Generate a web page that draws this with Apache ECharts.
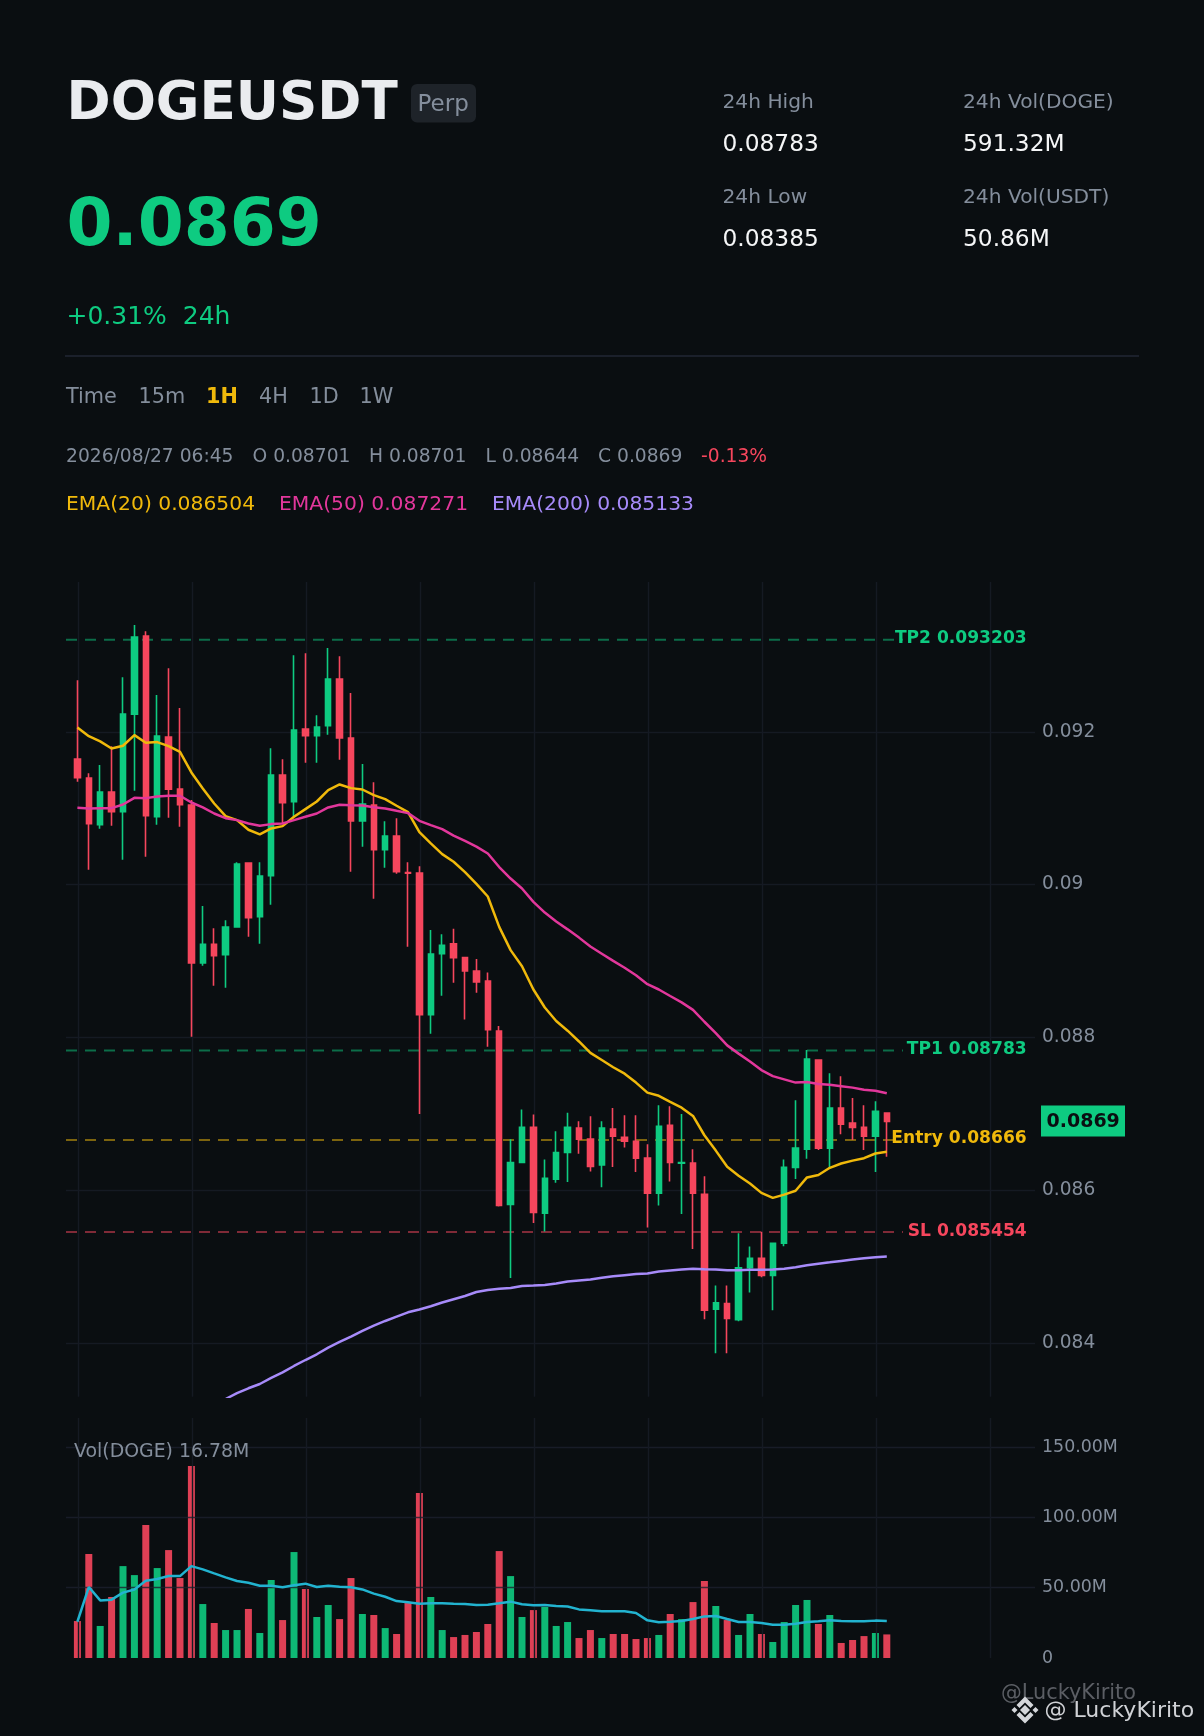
<!DOCTYPE html>
<html><head><meta charset="utf-8">
<style>html,body{margin:0;padding:0;background:#0a0e11}#c{width:1204px;height:1736px}</style>
<script src="https://cdn.jsdelivr.net/npm/echarts@6/dist/echarts.min.js"></script>
</head><body><div id="c"></div>
<script>
const opens=[.091642,.091394,.090783,.091210,.090953,.092231,.093252,.090888,.091930,.091250,.091040,.088977,.089221,.089082,.089448,.090281,.089579,.090116,.091433,.091084,.092035,.091948,.092079,.092689,.091917,.090835,.091040,.090456,.090635,.090159,.090151,.088297,.089095,.089227,.089045,.088871,.088740,.088084,.085817,.086365,.086824,.085700,.086145,.086496,.086815,.086670,.086332,.086801,.086693,.086642,.086421,.085962,.086852,.086356,.086356,.085948,.084445,.084520,.084309,.084988,.085110,.084885,.085307,.086300,.086539,.087705,.086553,.087077,.086881,.086824,.086707,.087010];
const closes=[.091398,.090796,.091210,.090953,.092231,.093239,.090901,.091943,.091250,.091045,.088977,.089221,.089069,.089444,.090268,.089566,.090111,.091433,.091071,.092022,.091948,.092061,.092689,.091921,.090835,.091053,.090456,.090635,.090168,.090150,.088297,.089091,.089208,.089045,.088871,.088726,.088103,.085803,.086365,.086824,.085710,.086159,.086496,.086824,.086670,.086314,.086815,.086707,.086642,.086421,.085962,.086838,.086365,.086365,.085962,.084431,.084529,.084323,.084988,.085110,.084885,.085307,.086300,.086553,.087719,.086553,.087077,.086866,.086824,.086707,.087035,.086900];
const highs=[.092676,.091459,.091564,.091812,.092715,.093396,.093317,.092480,.092833,.092310,.091106,.089719,.089431,.089535,.090294,.090281,.090294,.091786,.091642,.093003,.093029,.092218,.093095,.092990,.092506,.091577,.091341,.090831,.090870,.090294,.090242,.089405,.089352,.089424,.089054,.089026,.088852,.088150,.086670,.087059,.086993,.086403,.086773,.087016,.086904,.086970,.086904,.087077,.086984,.086984,.086604,.087115,.087101,.086998,.086539,.086183,.084754,.084754,.085438,.085265,.085457,.085307,.086403,.087180,.087836,.087714,.087532,.087494,.087208,.087115,.087166,.087010];
const lows=[.091346,.090194,.090731,.090770,.090325,.091228,.090364,.090783,.090875,.090757,.088009,.088938,.088676,.088650,.089448,.089317,.089226,.089736,.090800,.090888,.091594,.091594,.091961,.091634,.090168,.090495,.089815,.090220,.090142,.089186,.087000,.088048,.088545,.088717,.088234,.088585,.087878,.085789,.084852,.086365,.085574,.085461,.086098,.086108,.086478,.086248,.086042,.086304,.086562,.086239,.085513,.085803,.086117,.085691,.085232,.084314,.083869,.083869,.084286,.084665,.084862,.084431,.085269,.086150,.086412,.086529,.086281,.086735,.086660,.086529,.086239,.086440];
const ema20=[.092057,.091943,.091874,.091782,.091817,.091956,.091856,.091865,.091812,.091738,.091468,.091258,.091062,.090896,.090844,.090718,.090657,.090735,.090766,.090888,.090988,.091088,.091237,.091311,.091263,.091245,.091171,.091119,.091032,.090949,.090687,.090539,.090399,.090300,.090164,.090009,.089845,.089447,.089143,.088932,.088628,.088393,.088215,.088089,.087948,.087799,.087705,.087611,.087527,.087410,.087279,.087237,.087157,.087082,.086974,.086721,.086520,.086309,.086192,.086089,.085967,.085902,.085944,.085995,.086169,.086201,.086295,.086351,.086389,.086421,.086482,.086504];
const ema50=[.091005,.090997,.091001,.091001,.091049,.091136,.091132,.091154,.091163,.091163,.091075,.091010,.090931,.090870,.090844,.090800,.090770,.090792,.090800,.090844,.090888,.090931,.091010,.091045,.091040,.091036,.091014,.090997,.090966,.090936,.090835,.090779,.090726,.090642,.090572,.090497,.090408,.090230,.090080,.089949,.089775,.089635,.089518,.089415,.089307,.089190,.089096,.089002,.088913,.088815,.088698,.088628,.088543,.088459,.088361,.088206,.088056,.087897,.087789,.087686,.087574,.087494,.087452,.087410,.087419,.087391,.087382,.087363,.087344,.087316,.087302,.087271];
const ema200=[null,null,null,null,null,null,null,null,null,null,null,null,null,.083270,.083348,.083410,.083466,.083545,.083619,.083702,.083780,.083855,.083942,.084016,.084086,.084160,.084230,.084291,.084348,.084404,.084440,.084483,.084532,.084575,.084618,.084670,.084696,.084712,.084721,.084749,.084754,.084763,.084782,.084806,.084820,.084834,.084857,.084876,.084890,.084904,.084913,.084937,.084951,.084965,.084974,.084969,.084965,.084955,.084955,.084960,.084960,.084965,.084974,.084993,.085021,.085040,.085058,.085077,.085096,.085110,.085124,.085133];
const volumes=[26.3,74.0,22.8,43.4,65.4,59.0,94.6,64.0,76.8,56.9,136.6,38.4,24.9,19.9,19.9,34.9,17.8,55.5,27.0,75.4,49.1,29.2,37.7,27.7,56.9,31.3,30.6,21.3,17.1,39.1,117.4,43.4,19.9,14.9,16.4,18.5,24.2,76.1,58.3,29.2,34.1,36.3,22.8,25.6,14.2,19.9,14.2,17.1,17.1,13.5,14.2,16.4,31.3,27.7,39.8,54.8,37.0,27.0,16.4,31.3,17.1,11.4,25.6,37.7,41.3,24.2,30.6,10.7,12.8,15.6,17.8,16.78];
const volumeMA=[25.8,50.5,41.0,41.5,46.5,48.8,55.0,56.2,58.3,58.3,65.4,63.1,60.2,57.4,54.8,53.6,51.4,51.4,50.3,51.7,52.9,50.5,51.4,50.7,50.3,48.8,45.8,43.6,40.5,39.6,38.6,38.9,38.9,38.6,38.4,37.7,37.9,38.9,40.1,38.2,37.5,37.7,37.0,36.7,34.6,33.9,33.2,33.2,33.2,32.0,26.8,25.4,25.8,26.3,27.7,29.6,29.9,27.7,25.6,25.6,24.9,23.7,23.7,24.4,25.6,26.1,26.8,26.3,26.1,26.1,26.6,26.3];
const priceTicks=[0.084,0.086,0.088,0.09,0.092];
const volumeTicks=[0,50,100,150];
const timeTicks=[0,10,20,30,40,50,60,70,80];
const levelNames=['TP2','TP1','Entry','SL'];
const levelValues=[0.093203,0.08783,0.08666,0.085454];
const lastPrice=0.0869;

const UP='#0ecb81',DOWN='#f6465d',GREY='#848e9c',GOLD='#f0b90b',PINK='#e2379b',PURPLE='#a78bfa',CYAN='#22b3d0',GRID='#151a23',FONT='"DejaVu Sans"';
const levelColors=[UP,UP,GOLD,DOWN];
const slots=Array.from({length:86},(_,i)=>String(i));
const pad=a=>[null].concat(a);
const candleData=[['-','-','-','-']].concat(opens.map((o,i)=>[o,closes[i],lows[i],highs[i]]));
const volData=[null].concat(volumes.map((v,i)=>({value:v,itemStyle:{color:closes[i]>=opens[i]?UP:DOWN}})));

function hiddenCat(g){return {type:'category',gridIndex:g,data:slots,boundaryGap:false,axisLine:{show:false},axisTick:{show:false},axisLabel:{show:false},splitLine:{show:false}};}
function vertGrid(g,z){return {type:'value',gridIndex:g,position:'top',min:-1.08,max:83.92,z:z,
  axisLine:{show:false},axisLabel:{show:false,customValues:timeTicks},axisTick:{show:false,customValues:timeTicks},
  splitLine:{show:true,lineStyle:{color:GRID,width:1.4}}};}
const levelSeries=levelNames.map((n,k)=>({type:'line',name:n,xAxisIndex:1,yAxisIndex:0,z:1,symbol:'none',silent:true,
  data:[[-1.08,levelValues[k]],[72.34,levelValues[k]]],
  lineStyle:{color:levelColors[k],width:2,type:[11,8],opacity:.5},
  endLabel:{show:true,color:levelColors[k],fontFamily:FONT,fontWeight:'bold',fontSize:17.1,align:'right',distance:0,offset:[123.7,-1],
    formatter:()=>n+' '+levelValues[k]}}));
const line=(name,d,color,w,xi,yi,z)=>({type:'line',name,data:pad(d),xAxisIndex:xi,yAxisIndex:yi,symbol:'none',z,silent:true,connectNulls:false,smooth:false,lineStyle:{color,width:w},clip:true});

const chart=echarts.init(document.getElementById('c'),null,{renderer:'canvas',width:1204,height:1736});
const option={
  animation:false,backgroundColor:'#0a0e11',
  grid:[{left:66,width:969,top:582,height:814.7},{left:66,width:969,top:1418,height:240}],
  xAxis:[hiddenCat(0),vertGrid(0,0),hiddenCat(1),vertGrid(1,5)],
  yAxis:[
    {type:'value',gridIndex:0,position:'right',min:0.0833,max:0.09396,scale:true,axisLine:{show:false},axisTick:{show:false,customValues:priceTicks},
     axisLabel:{color:GREY,fontFamily:FONT,fontSize:18.6,margin:7,padding:[2,0,0,0],customValues:priceTicks,formatter:v=>String(+(+v).toFixed(3))},
     splitLine:{show:true,lineStyle:{color:GRID,width:1.4}}},
    {type:'value',gridIndex:1,position:'right',min:0,max:170.8,z:5,axisLine:{show:false},axisTick:{show:false,customValues:volumeTicks},
     axisLabel:{color:GREY,fontFamily:FONT,fontSize:17.4,margin:7,padding:[2,0,0,0],customValues:volumeTicks,formatter:v=>+v===0?'0':(+v).toFixed(2)+'M'},
     splitLine:{show:true,showMinLine:false,lineStyle:{color:'rgba(28,33,46,0.8)',width:1.4}}}
  ],
  series:levelSeries.concat([
    {type:'candlestick',name:'DOGEUSDT',xAxisIndex:0,yAxisIndex:0,data:candleData,barWidth:6,z:2,silent:true,
     itemStyle:{color:UP,color0:DOWN,borderColor:UP,borderColor0:DOWN,borderWidth:1.6}},
    line('EMA(20)',ema20,GOLD,2.5,0,0,3),
    line('EMA(50)',ema50,PINK,2.5,0,0,3),
    line('EMA(200)',ema200,PURPLE,2.5,0,0,3),
    {type:'bar',name:'Vol(DOGE)',xAxisIndex:2,yAxisIndex:1,data:volData,barWidth:7,z:2,silent:true,itemStyle:{opacity:.9}},
    line('Vol MA',volumeMA,CYAN,2.5,2,1,6)
  ])
};
chart.setOption(option);

function t(x,base,str,size,color,weight,align){return {type:'text',z:20,silent:true,style:{x,y:base-0.25*size,text:str,fill:color,align:align||'left',verticalAlign:'middle',font:(weight||'normal')+' '+size+'px '+FONT}};}
const py=chart.convertToPixel({yAxisIndex:0},lastPrice);
const logoC=[1025,1710],LG='#d4d6da';
const poly=(pts)=>({type:'polygon',z:21,silent:true,shape:{points:pts.map(p=>[logoC[0]+p[0],logoC[1]+p[1]])},style:{fill:LG}});
chart.setOption({graphic:[
  t(66.5,118,'DOGEUSDT',53.2,'#eaecef','bold'),
  {type:'rect',z:19,silent:true,shape:{x:411,y:84,width:65,height:38.5,r:6},style:{fill:'#1e2329'}},
  t(417.5,111,'Perp',23,GREY),
  t(66.5,244,'0.0869',66.2,UP,'bold'),
  t(66.5,324,'+0.31%  24h',25,UP),
  t(722.5,107.5,'24h High',20.2,GREY),t(963,107.5,'24h Vol(DOGE)',20.2,GREY),
  t(722.5,151,'0.08783',23.3,'#f5f6f7'),t(963,151,'591.32M',23.3,'#f5f6f7'),
  t(722.5,203,'24h Low',20.2,GREY),t(963,203,'24h Vol(USDT)',20.2,GREY),
  t(722.5,246,'0.08385',23.3,'#f5f6f7'),t(963,246,'50.86M',23.3,'#f5f6f7'),
  {type:'rect',z:19,silent:true,shape:{x:65,y:355,width:1074,height:2},style:{fill:'#1b202b'}},
  t(66,403,'Time',20.8,GREY),t(138.5,403,'15m',20.8,GREY),t(206,403,'1H',20.8,GOLD,'bold'),t(259,403,'4H',20.8,GREY),t(309.5,403,'1D',20.8,GREY),t(359.5,403,'1W',20.8,GREY),
  t(66,462,'2026/08/27 06:45',18.7,GREY),t(252.5,462,'O 0.08701',18.7,GREY),t(369,462,'H 0.08701',18.7,GREY),t(485.5,462,'L 0.08644',18.7,GREY),t(598,462,'C 0.0869',18.7,GREY),t(701,462,'-0.13%',18.7,DOWN),
  t(66,510,'EMA(20) 0.086504',20.3,GOLD),t(279,510,'EMA(50) 0.087271',20.3,PINK),t(492,510,'EMA(200) 0.085133',20.3,PURPLE),
  t(74,1457,'Vol(DOGE) 16.78M',18.9,GREY),
  {type:'rect',z:19,silent:true,shape:{x:1041,y:py-16,width:84,height:31},style:{fill:UP}},
  t(1046.5,py+5,'0.0869',19,'#0a0e11','bold'),
  t(1001,1699,'@LuckyKirito',20.8,'#5b5e64'),
  t(1044.5,1716.7,'@ LuckyKirito',22,'#d0d2d6'),
  poly([[0,-5],[5,0],[0,5],[-5,0]]),
  poly([[-13.5,0],[-10.5,-3],[-7.5,0],[-10.5,3]]),poly([[13.5,0],[10.5,-3],[7.5,0],[10.5,3]]),
  poly([[0,-13.5],[8.5,-5],[5.5,-2],[0,-7.5],[-5.5,-2],[-8.5,-5]]),
  poly([[0,13.5],[8.5,5],[5.5,2],[0,7.5],[-5.5,2],[-8.5,5]])
]});
</script></body></html>
